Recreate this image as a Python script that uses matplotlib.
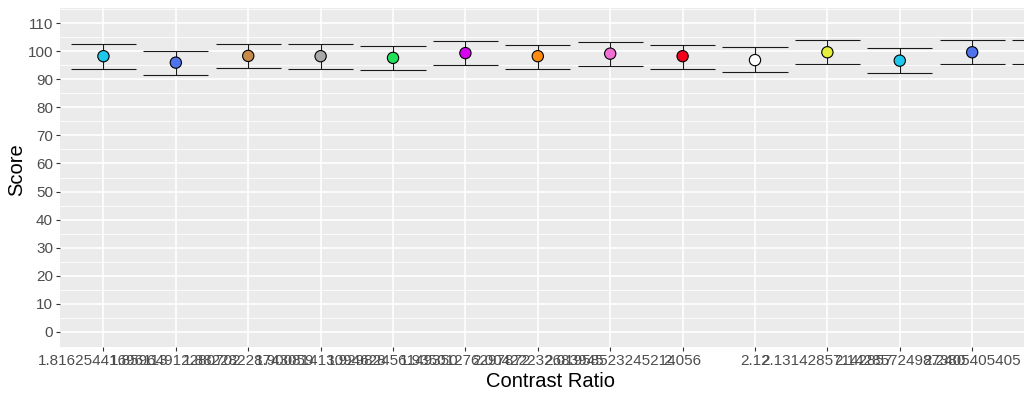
import numpy as np
import matplotlib.pyplot as plt

plt.rcParams['font.family'] = ['Liberation Sans', 'DejaVu Sans']

# Data
ratio_labels = ['1.81625441696113', '1.85964912280702', '1.88228228743059',
                '1.90081413094628', '1.92982456149350', '1.93501276297872',
                '2.00422232683945', '2.01958523245214', '2.056', '2.12',
                '2.13142857142857', '2.14285724987380', '2.2405405405',
                '2.25']
score_mean = [98.3, 96.0, 98.4, 98.3, 97.7, 99.4, 98.3, 99.2, 98.3, 96.9, 99.7, 96.7, 99.7, 99.7]
score_high = [102.5, 100.3, 102.8, 102.5, 102.1, 103.8, 102.4, 103.5, 102.4, 101.5, 104.1, 101.1, 104.1, 104.1]
score_low = [93.7, 91.6, 94.1, 93.7, 93.2, 95.2, 93.7, 94.8, 93.7, 92.6, 95.4, 92.3, 95.4, 95.4]
point_colors = ['#1EC8EC', '#4F73EB', '#C68A4B', '#A9A9A9', '#22E05A', '#D800F2',
                '#FF8A12', '#F26FD6', '#F5001A', '#FFFFFF', '#E6F03A', '#1EC8EC',
                '#4F73EB', '#9ACD32']
y_breaks = np.arange(0, 111, 10)

W, H = 1024, 398
fig = plt.figure(figsize=(W / 100, H / 100), dpi=100)
# panel runs past the right edge, like the cropped reference
ax = fig.add_axes([60 / W, (H - 347) / H, 1028 / W, (347 - 8) / H])
ax.set_facecolor('#EBEBEB')
for s in ax.spines.values():
    s.set_visible(False)

x = np.arange(len(ratio_labels))

# grid
for yv in np.arange(5, 116, 10):
    ax.axhline(yv, color='white', lw=0.6, zorder=0)
for yv in y_breaks:
    ax.axhline(yv, color='white', lw=1.2, zorder=0)
for xv in x:
    ax.axvline(xv, color='white', lw=1.2, zorder=0)

# error bars
half = 0.45
ax.hlines(score_high, x - half, x + half, color='#1a1a1a', lw=0.8, zorder=2)
ax.hlines(score_low, x - half, x + half, color='#1a1a1a', lw=0.8, zorder=2)
ax.vlines(x, score_low, score_high, color='#1a1a1a', lw=0.8, zorder=2)

ax.scatter(x, score_mean, s=66, c=point_colors, edgecolors='black', linewidths=0.8, zorder=3)

ax.set_xlim(-0.6, len(ratio_labels) - 0.4)
ax.set_ylim(-5.5, 115.5)
ax.set_xticks(x)
ax.set_xticklabels(ratio_labels)
ax.set_yticks(y_breaks)
ax.tick_params(length=3, width=0.8, color='#333333', labelcolor='#4D4D4D',
               labelsize=11, pad=2)

ax.set_xlabel('Contrast Ratio', fontsize=14.5)
ax.xaxis.set_label_coords((550 - 60) / 1028, -(372 - 347) / 339)
ax.set_ylabel('Score', fontsize=14.5)
ax.yaxis.set_label_coords(-(60 - 26) / 1028, (347 - 170) / 339)

fig.savefig('out.png', dpi=100)
